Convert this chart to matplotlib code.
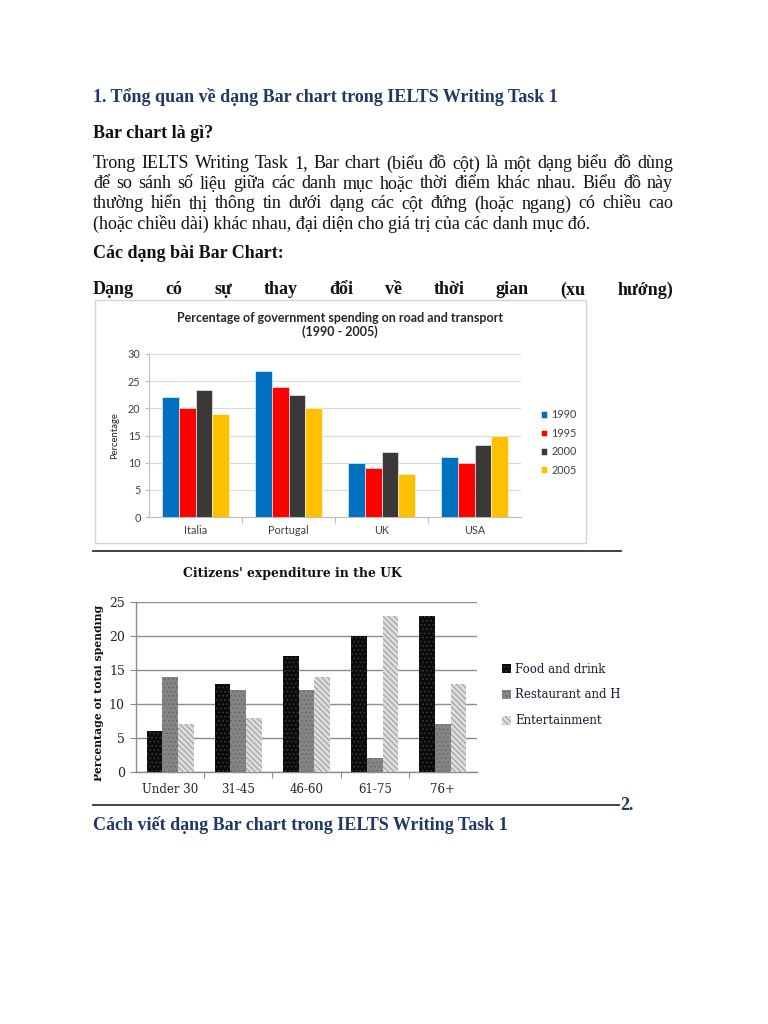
import matplotlib
matplotlib.use("Agg")
import matplotlib.pyplot as plt
import numpy as np
from matplotlib.patches import Rectangle
from matplotlib.lines import Line2D
from matplotlib.transforms import Bbox, TransformedBbox

# ---------------- data ----------------
countries = ["Italia", "Portugal", "UK", "USA"]
years = ["1990", "1995", "2000", "2005"]
spend_1990 = [22, 26.8, 10, 11]
spend_1995 = [20, 24, 9, 10]
spend_2000 = [23.4, 22.4, 12, 13.3]
spend_2005 = [19, 20, 8, 15]
year_colors = ["#0070C0", "#FF0000", "#3B3838", "#FFC000"]
c1_yticks = [0, 5, 10, 15, 20, 25, 30]

age_groups = ["Under 30", "31-45", "46-60", "61-75", "76+"]
exp_series = ["Food and drink", "Restaurant and Hotels", "Entertainment"]
food_drink = [6, 13, 17, 20, 23]
restaurant_hotels = [14, 12, 12, 2, 7]
entertainment = [7, 8, 14, 23, 13]
c2_yticks = [0, 5, 10, 15, 20, 25]

W, H = 768, 1024
fig = plt.figure(figsize=(W / 100, H / 100), dpi=100)
fig.patch.set_facecolor("white")

SERIF = ["Liberation Serif", "DejaVu Serif"]
SERIF2 = ["DejaVu Serif"]
NAVY = "#1F3864"
FS = 13.0
BASE = 5.5  # baseline offset from visual centre (px)


def fx(x):
    return x / W


def fy(y):
    return 1 - y / H


def ptext(x, y, s, **kw):
    kw.setdefault("family", SERIF)
    return fig.text(fx(x), fy(y + BASE), s, va="baseline", **kw)


renderer = fig.canvas.get_renderer()


def justify(line, y, x0, x1, **kw):
    words = line.split()
    texts = [ptext(0, y, w, **kw) for w in words]
    widths = [t.get_window_extent(renderer).width for t in texts]
    gap = (x1 - x0 - sum(widths)) / (len(words) - 1)
    x = x0
    for t, w in zip(texts, widths):
        t.set_x(fx(x))
        x += w + gap


# ---------------- document text ----------------
ptext(93, 97, "1. Tổng quan về dạng Bar chart trong IELTS Writing Task 1",
      fontsize=FS, fontweight="bold", color=NAVY)
ptext(93, 133, "Bar chart là gì?", fontsize=FS, fontweight="bold", color="#111111")
para = [
    "Trong IELTS Writing Task 1, Bar chart (biểu đồ cột) là một dạng biểu đồ dùng",
    "để so sánh số liệu giữa các danh mục hoặc thời điểm khác nhau. Biểu đồ này",
    "thường hiển thị thông tin dưới dạng các cột đứng (hoặc ngang) có chiều cao",
]
last_line = "(hoặc chiều dài) khác nhau, đại diện cho giá trị của các danh mục đó."
for i, ln in enumerate(para):
    justify(ln, 163 + 20 * i, 93, 673, fontsize=FS, color="#111111")
ptext(93, 223, last_line, fontsize=FS, color="#111111")
ptext(93, 252, "Các dạng bài Bar Chart:", fontsize=FS, fontweight="bold", color="#111111")
justify("Dạng có sự thay đổi về thời gian (xu hướng)", 289, 93, 673,
        fontsize=FS, fontweight="bold", color="#111111")

# separator lines
fig.add_artist(Line2D([fx(93), fx(621)], [fy(551), fy(551)], color="#333333", lw=1.3))
fig.add_artist(Line2D([fx(93), fx(619)], [fy(805), fy(805)], color="#333333", lw=1.3))
ptext(620, 805, "2.", fontsize=FS, fontweight="bold", color=NAVY)
ptext(93, 824, "Cách viết dạng Bar chart trong IELTS Writing Task 1",
      fontsize=FS, fontweight="bold", color=NAVY)

# ---------------- chart 1 ----------------
SANS = ["Lato", "DejaVu Sans"]
fig.add_artist(Rectangle((fx(95), fy(543)), fx(586) - fx(95), fy(300) - fy(543),
                         fill=False, edgecolor="#d4d4d4", lw=1.0))
ax1 = fig.add_axes([fx(149), fy(517), fx(521) - fx(149), fy(354) - fy(517)])
x = np.arange(len(countries))
bw = 0.18
series1 = [spend_1990, spend_1995, spend_2000, spend_2005]
for i, (vals, col, lab) in enumerate(zip(series1, year_colors, years)):
    ax1.bar(x + (i - 1.5) * bw, vals, bw, color=col, edgecolor="white",
            linewidth=0.4, label=lab, zorder=3)
ax1.set_xlim(-0.5, len(countries) - 0.5)
ax1.set_ylim(0, 30)
ax1.set_yticks(c1_yticks)
ax1.yaxis.grid(True, color="#d9d9d9", lw=0.8, zorder=0)
ax1.set_xticks(x)
ax1.set_xticklabels(countries, family=SANS, fontsize=7.8, color="#404040")
ax1.set_xticks(np.arange(0.5, len(countries) - 0.5, 1), minor=True)
ax1.tick_params(axis="x", which="major", length=0, pad=6)
ax1.tick_params(axis="x", which="minor", length=4, color="#bfbfbf", width=0.8)
ax1.tick_params(axis="y", length=3, color="#bfbfbf", width=0.8, pad=3,
                labelsize=7.8, labelcolor="#404040")
for lbl in ax1.get_yticklabels():
    lbl.set_family(SANS)
for s in ["top", "right"]:
    ax1.spines[s].set_visible(False)
for s in ["left", "bottom"]:
    ax1.spines[s].set_color("#bfbfbf")
    ax1.spines[s].set_linewidth(0.8)
ax1.set_ylabel("Percentage", family=SANS, fontsize=6.8, color="#262626", labelpad=6)
ax1.set_facecolor("none")
fig.text(fx(340), fy(325), "Percentage of government spending on road and transport\n(1990 - 2005)",
         ha="center", va="center", family=SANS, fontsize=9.0, fontweight="bold",
         color="#262626", linespacing=1.15)
ax1.legend(loc="center left", bbox_to_anchor=(fx(541), fy(442.5)),
           bbox_transform=fig.transFigure, frameon=False,
           prop={"family": SANS, "size": 7.8}, labelcolor="#404040",
           handlelength=0.55, handleheight=0.55, handletextpad=0.4,
           labelspacing=0.68, borderpad=0, borderaxespad=0)

# ---------------- chart 2 ----------------
plt.rcParams["hatch.linewidth"] = 0.6
ax2 = fig.add_axes([fx(136), fy(772), fx(477) - fx(136), fy(602) - fy(772)])
x2 = np.arange(len(age_groups))
bw2 = 0.23
styles = [
    dict(color="#0b0b0b", edgecolor="#3d3d3d", hatch="...."),
    dict(color="#858585", edgecolor="#666666", hatch="...."),
    dict(color="#dcdcdc", edgecolor="#8e8e8e", hatch="\\\\\\\\\\\\"),
]
series2 = [food_drink, restaurant_hotels, entertainment]
for i, (vals, st, lab) in enumerate(zip(series2, styles, exp_series)):
    ax2.bar(x2 + (i - 1) * bw2, vals, bw2, linewidth=0, label=lab, zorder=3, **st)
ax2.set_xlim(-0.5, len(age_groups) - 0.5)
ax2.set_ylim(0, 25)
ax2.set_yticks(c2_yticks)
ax2.yaxis.grid(True, color="#8c8c8c", lw=1.0, zorder=0)
ax2.set_xticks(x2)
ax2.set_xticklabels(age_groups, family=SERIF2, fontsize=8.5, color="#222222")
ax2.set_xticks(np.arange(0.5, len(age_groups) - 0.5, 1), minor=True)
ax2.tick_params(axis="x", which="major", length=0, pad=8)
ax2.tick_params(axis="x", which="minor", length=4, color="#8c8c8c", width=0.8)
ax2.tick_params(axis="y", length=4, color="#8c8c8c", width=0.8, pad=4,
                labelsize=9, labelcolor="#222222")
for lbl in ax2.get_yticklabels():
    lbl.set_family(SERIF2)
for s in ["top", "right"]:
    ax2.spines[s].set_visible(False)
for s in ["left", "bottom"]:
    ax2.spines[s].set_color("#8c8c8c")
    ax2.spines[s].set_linewidth(1.0)
ax2.set_facecolor("none")
fig.text(fx(292), fy(573), "Citizens' expenditure in the UK", ha="center", va="center",
         family=SERIF2, fontsize=8.9, fontweight="bold", color="#111111")
yl = fig.text(fx(98.5), fy(693), "Percentage of total spending", rotation=90,
              ha="center", va="center", family=SERIF2, fontsize=7.8,
              fontweight="bold", color="#111111")
yl.set_clip_box(TransformedBbox(Bbox.from_extents(fx(94), 0, 1, 1), fig.transFigure))
yl.set_clip_on(True)

leg2 = ax2.legend(loc="center left", bbox_to_anchor=(fx(502), fy(695)),
                  bbox_transform=fig.transFigure, frameon=False,
                  prop={"family": SERIF2, "size": 8.5}, labelcolor="#1a1a33",
                  handlelength=0.8, handleheight=0.8, handletextpad=0.3,
                  labelspacing=1.1, borderpad=0, borderaxespad=0)
clipbox = TransformedBbox(Bbox.from_extents(0, 0, fx(621), 1), fig.transFigure)
for t in leg2.get_texts():
    t.set_clip_box(clipbox)
    t.set_clip_on(True)

fig.savefig("out.png", dpi=100, facecolor="white")
